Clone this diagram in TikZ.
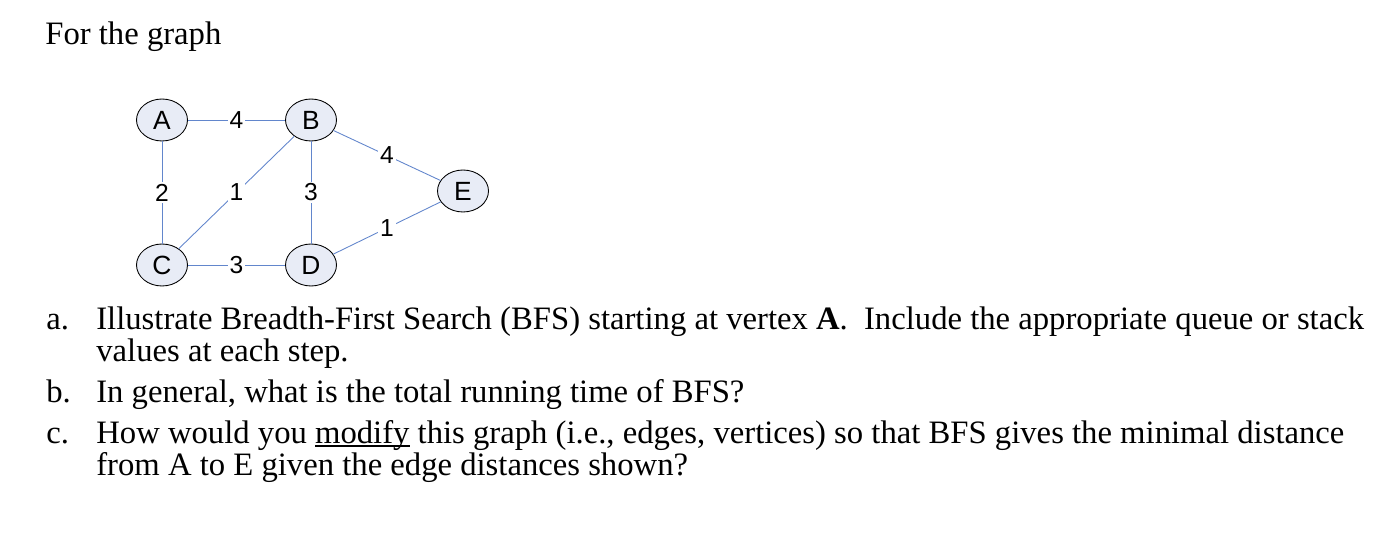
\documentclass[tikz,border=0pt]{standalone}
\usepackage{fontspec}
\setmainfont{Liberation Serif}
\newfontfamily\arial{Liberation Sans}
\usetikzlibrary{shapes.geometric}
\definecolor{nodefill}{RGB}{232,236,246}
\definecolor{edgeblue}{RGB}{98,134,204}
\newcommand{\undl}[1]{\setbox0=\hbox{#1}\rlap{\rule[-2.2pt]{\wd0}{0.8pt}}\box0\relax}
\tikzset{vtx/.style={ellipse,draw=black,line width=0.5pt,fill=nodefill,minimum width=1.02cm,minimum height=0.84cm,inner sep=0pt,font=\arial\fontsize{15}{15}\selectfont}}
\tikzset{wt/.style={fill=white,inner sep=1pt,font=\arial\fontsize{14}{14}\selectfont}}
\tikzset{lnk/.style={draw=edgeblue,line width=0.5pt}}
\tikzset{txt/.style={anchor=base west,inner sep=0pt,font=\fontsize{18.6}{18.6}\selectfont}}

\begin{document}
\begin{tikzpicture}[x=0.02cm,y=-0.02cm]
  \useasboundingbox (0,0) rectangle (1398,540);
  \node[txt] (head) at (45,45) {For the graph};
  % the graph
  \node[vtx] (A) at (162,120) {A};
  \node[vtx] (B) at (311,120) {B};
  \node[vtx] (C) at (162,265) {C};
  \node[vtx] (D) at (311,265) {D};
  \node[vtx] (E) at (463,191) {E};
  \draw[lnk] (A) -- node[wt] {4} (B);
  \draw[lnk] (A) -- node[wt] {2} (C);
  \draw[lnk] (C) -- node[wt] {1} (B);
  \draw[lnk] (B) -- node[wt] {3} (D);
  \draw[lnk] (C) -- node[wt] {3} (D);
  \draw[lnk] (B) -- node[wt] {4} (E);
  \draw[lnk] (D) -- node[wt] {1} (E);
  % questions
  \node[txt] (qa) at (46,329) {a.};
  \node[txt] (qa1) at (96,329) {Illustrate Breadth-First Search (BFS) starting at vertex \textbf{A}.~ Include the appropriate queue or stack};
  \node[txt] (qa2) at (96,361) {values at each step.};
  \node[txt] (qb) at (46,402) {b.};
  \node[txt] (qb1) at (96,402) {In general, what is the total running time of BFS?};
  \node[txt] (qc) at (46,443) {c.};
  \node[txt] (qc1) at (96,443) {How would you \undl{modify} this graph (i.e., edges, vertices) so that BFS gives the minimal distance};
  \node[txt] (qc2) at (96,475) {from A to E given the edge distances shown?};
\end{tikzpicture}
\end{document}
